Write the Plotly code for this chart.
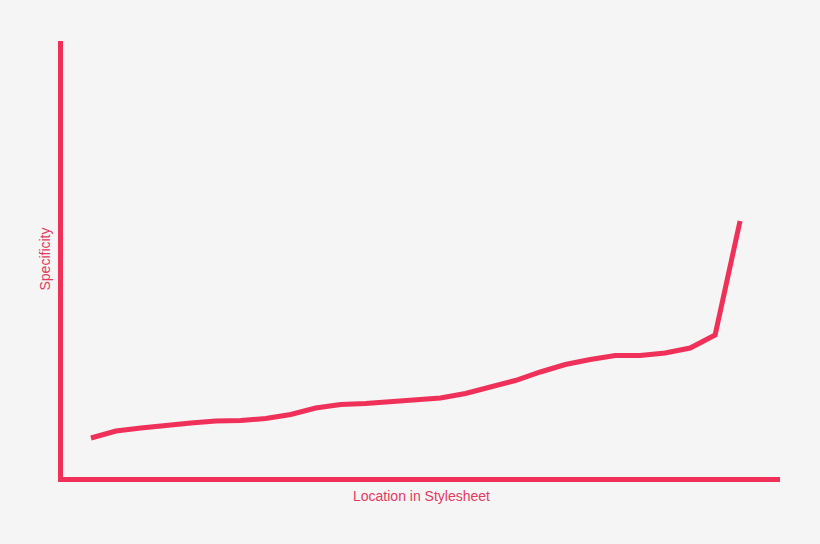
import plotly.graph_objects as go

location = list(range(27))
specificity = [4.15, 4.85, 5.15, 5.45, 5.65, 5.85, 5.9, 6.1, 6.5, 7.15,
               7.5, 7.6, 7.8, 8.05, 8.15, 8.6, 9.25, 9.9, 10.75, 11.5,
               12.0, 12.4, 12.4, 12.65, 13.15, 14.45, 25.85]

red = "#ef315a"
label_red = "#e23a60"

fig = go.Figure()
fig.add_trace(go.Scatter(x=location, y=specificity, mode="lines",
                         line=dict(color=red, width=5), hoverinfo="skip"))

fig.update_layout(
    width=820, height=544,
    paper_bgcolor="#f5f5f5", plot_bgcolor="#f5f5f5",
    margin=dict(l=63, r=40, t=41, b=67),
    showlegend=False,
    font=dict(family="Liberation Sans, Arial, sans-serif", color=label_red, size=14),
)
fig.update_xaxes(range=[-1.12, 27.6], showline=True, linecolor=red, linewidth=5,
                 showgrid=False, zeroline=False, showticklabels=False, ticks="",
                 title=dict(text="Location in Stylesheet", standoff=12,
                            font=dict(size=14, color=label_red)))
fig.update_yaxes(range=[0.25, 43.85], showline=True, linecolor=red, linewidth=5,
                 showgrid=False, zeroline=False, showticklabels=False, ticks="",
                 title=dict(text="Specificity", standoff=6,
                            font=dict(size=14, color=label_red)))

fig.write_html("out.html", config={"displayModeBar": False},
               post_script="document.body.style.margin='0';"
                           "document.body.style.background='#f5f5f5';")
